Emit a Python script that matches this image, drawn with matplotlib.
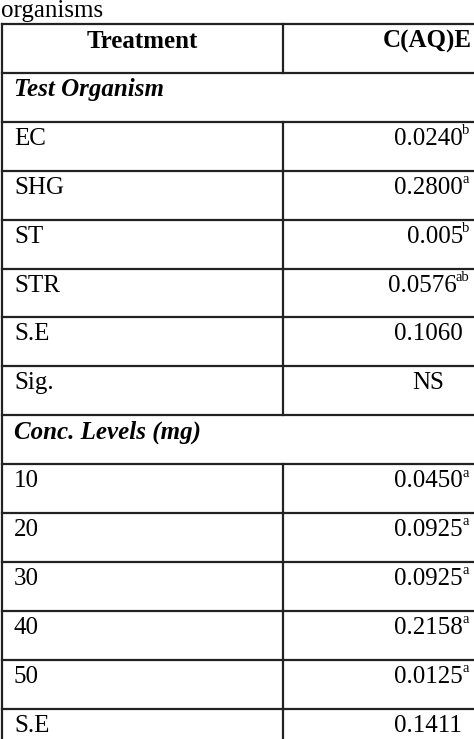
import matplotlib
matplotlib.use("Agg")
import matplotlib.pyplot as plt

treatments = ["EC", "SHG", "ST", "STR", "S.E", "Sig.", None, "10", "20", "30", "40", "50", "S.E"]
values = ["0.0240", "0.2800", "0.005", "0.0576", "0.1060", "NS", None,
          "0.0450", "0.0925", "0.0925", "0.2158", "0.0125", "0.1411"]
sups = ["b", "a", "b", "ab", "", "", None, "a", "a", "a", "a", "a", ""]

W, H = 474, 739
fig = plt.figure(figsize=(W/100, H/100), dpi=100)
ax = fig.add_axes([0, 0, 1, 1])
ax.set_xlim(0, W); ax.set_ylim(H, 0); ax.axis("off")
fam = ["Liberation Serif", "DejaVu Serif"]
fs = 18

ax.text(1, 11, "organisms", fontsize=fs, family=fam, va="center", ha="left")

top, rh = 24, 48.9
xl, xm, xr = 2, 283, 474
ax.text((xl+xm)/2, top+17, "Treatment", fontsize=fs, family=fam, weight="bold", ha="center", va="center")
ax.text(472, top+17, "C(AQ)E", fontsize=fs, family=fam, weight="bold", ha="right", va="center")

rows = [("section", "Test Organism")] + [("data", i) for i in range(6)] \
     + [("section", "Conc. Levels (mg)")] + [("data", i) for i in range(7, 13)]

lines_y = [top, top+rh]
y = top + rh
for kind, v in rows:
    ty = y + 17
    if kind == "section":
        ax.text(14, ty, v, fontsize=fs, family=fam, weight="bold", style="italic", va="center")
    else:
        ax.text(14, ty, treatments[v], fontsize=fs, family=fam, va="center")
        s = sups[v]
        if s:
            ax.text(469, ty-8, s, fontsize=10.5, family=fam, va="center", ha="right")
            off = 469 - 6*len(s)
            ax.text(off, ty, values[v], fontsize=fs, family=fam, va="center", ha="right")
        else:
            ax.text(428, ty, values[v], fontsize=fs, family=fam, va="center", ha="center")
        ax.plot([xm, xm], [y, min(y+rh, H)], color="#222", lw=1.6)
    y += rh
    lines_y.append(y)

for ly in lines_y:
    if ly < H:
        ax.plot([xl, xr], [ly, ly], color="#222", lw=1.6)
ax.plot([xl, xl], [top, H], color="#222", lw=1.6)
ax.plot([xm, xm], [top, top+rh], color="#222", lw=1.6)

fig.savefig("out.png", dpi=100)
